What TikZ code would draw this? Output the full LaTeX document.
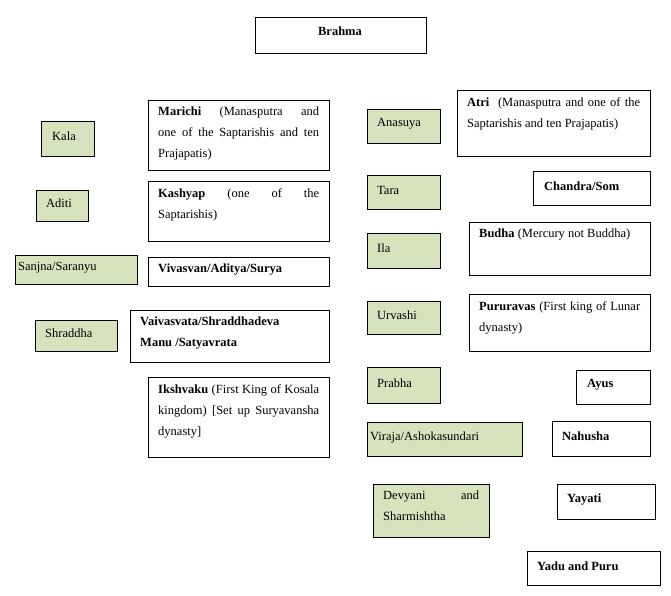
\documentclass[tikz,border=0pt]{standalone}
\usepackage{fontspec}
\setmainfont{Liberation Serif}
\definecolor{gr}{HTML}{D6E3BC}
\tikzset{box/.style={draw=black,line width=0.8pt},
 txt/.style={inner sep=0pt,font=\fontsize{12.5}{21}\selectfont}}
\newcommand\Cbx[8]{% name fill x1 y1 x2 y2 leftpad text
 \draw[box,fill=#2] (#3,#4) rectangle (#5,#6);
 \node[txt,anchor=west] (#1) at (#3+#7,{(#4+#6)/2-2}) {#8};}
\newcommand\Tbx[7]{% name fill x1 y1 x2 y2 text
 \draw[box,fill=#2] (#3,#4) rectangle (#5,#6);
 \node[txt,anchor=north west,align=justify,text width=\dimexpr #5pt-#3pt-20pt\relax] (#1) at (#3+10,#4+7) {#7};}
\begin{document}
\hyphenpenalty=10000
\exhyphenpenalty=10000
\begin{tikzpicture}[x=1pt,y=-1pt]
\useasboundingbox (0,0) rectangle (671,595);
\draw[box] (255,17) rectangle (426,53);
\node[txt,font=\fontsize{12.5}{21}\selectfont\bfseries] (brahma) at (340,31) {Brahma};
% left column
\Cbx{kala}{gr}{41}{121}{94}{156}{11}{Kala}
\Tbx{marichi}{white}{148}{100}{329}{170}{\textbf{Marichi} (Manasputra and one of the Saptarishis and ten Prajapatis)}
\Cbx{aditi}{gr}{36}{190}{88}{221}{10}{Aditi}
\Tbx{kashyap}{white}{148}{181}{329}{241}{\textbf{Kashyap} (one of the Saptarishis)}
\Cbx{sanjna}{gr}{15}{255}{137}{284}{3}{Sanjna/Saranyu}
\Cbx{vivasvan}{white}{148}{257}{329}{286}{10}{\textbf{Vivasvan/Aditya/Surya}}
\Cbx{shraddha}{gr}{35}{320}{117}{351}{10}{Shraddha}
\Tbx{vaivasvata}{white}{130}{310}{329}{362}{\textbf{Vaivasvata/Shraddhadeva}\\\textbf{Manu /Satyavrata}}
\Tbx{ikshvaku}{white}{148}{377}{329}{457}{\textbf{Ikshvaku} (First King of Kosala kingdom) [Set up Suryavansha dynasty]}
% right side
\Cbx{anasuya}{gr}{367}{109}{440}{143}{10}{Anasuya}
\Tbx{atri}{white}{457}{90}{650}{156}{\textbf{Atri}\ \ (Manasputra and one of the Saptarishis and ten Prajapatis)}
\Cbx{tara}{gr}{367}{175}{440}{209}{10}{Tara}
\Cbx{chandra}{white}{533}{171}{650}{205}{11}{\textbf{Chandra/Som}}
\Cbx{ila}{gr}{367}{233}{440}{268}{10}{Ila}
\Tbx{budha}{white}{469}{222}{650}{275}{\textbf{Budha} (Mercury not Buddha)}
\Cbx{urvashi}{gr}{367}{301}{440}{334}{10}{Urvashi}
\Tbx{pururavas}{white}{469}{294}{650}{351}{\textbf{Pururavas} (First king of Lunar dynasty)}
\Cbx{prabha}{gr}{367}{367}{440}{403}{10}{Prabha}
\Cbx{ayus}{white}{576}{370}{650}{404}{11}{\textbf{Ayus}}
\Cbx{viraja}{gr}{367}{422}{522}{456}{3}{Viraja/Ashokasundari}
\Cbx{nahusha}{white}{552}{421}{650}{456}{10}{\textbf{Nahusha}}
\Tbx{devyani}{gr}{373}{484}{489}{537}{Devyani\hfill and\\Sharmishtha}
\Cbx{yayati}{white}{557}{484}{655}{519}{10}{\textbf{Yayati}}
\Cbx{yadu}{white}{527}{551}{660}{585}{10}{\textbf{Yadu and Puru}}
\end{tikzpicture}
\end{document}
